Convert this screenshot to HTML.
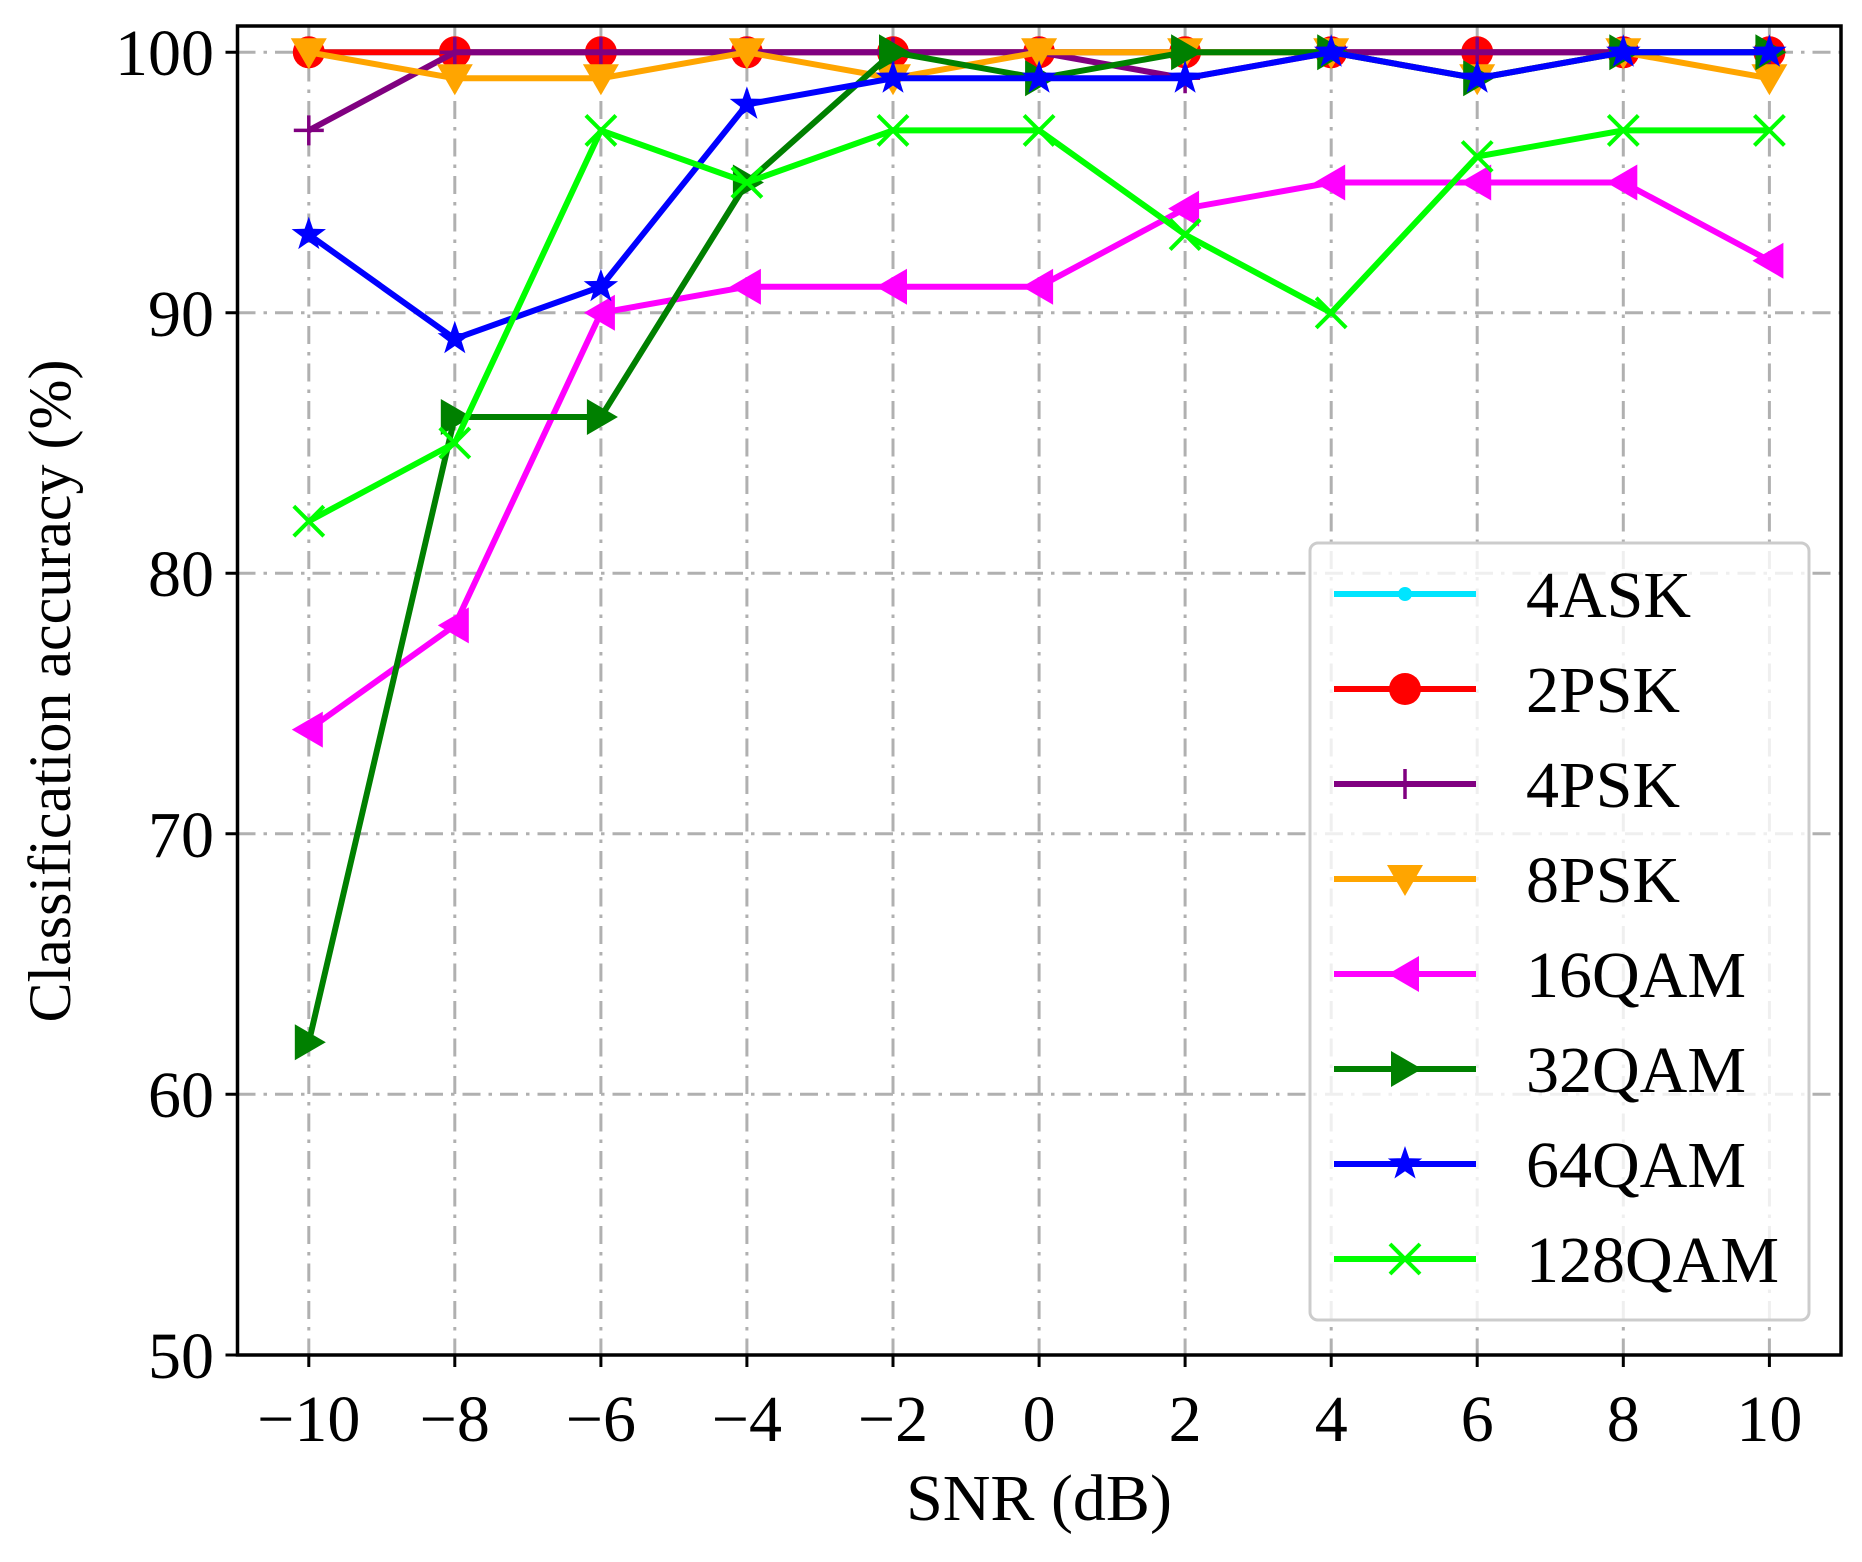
<!DOCTYPE html>
<html><head><meta charset="utf-8"><style>html,body{margin:0;padding:0;background:#fff}svg{display:block}text{font-family:"Liberation Serif",serif;fill:#000}</style></head><body>
<svg width="1862" height="1562" viewBox="0 0 1862 1562" xmlns="http://www.w3.org/2000/svg">
<defs>
<symbol id="mc" overflow="visible"><circle cx="0" cy="0" r="7" fill="#00e5ff"/></symbol>
<symbol id="mo" overflow="visible"><circle cx="0" cy="0" r="16" fill="#ff0000"/></symbol>
<symbol id="mp" overflow="visible"><path d="M-15 0H15M0 -15V15" stroke="#800080" stroke-width="3.5"/></symbol>
<symbol id="mv" overflow="visible"><path d="M-18 -14L18 -14L0 17Z" fill="#ffa500"/></symbol>
<symbol id="ml" overflow="visible"><path d="M-17 0L14 -18L14 18Z" fill="#ff00ff"/></symbol>
<symbol id="mr" overflow="visible"><path d="M17 0L-14 -18L-14 18Z" fill="#008000"/></symbol>
<symbol id="ms" overflow="visible"><path d="M0,-18 L4.2,-5.8 L17.2,-5.5 L6.8,2.3 L10.6,14.5 L0,7.2 L-10.6,14.5 L-6.8,2.3 L-17.2,-5.5 L-4.2,-5.8Z" fill="#0000ff"/></symbol>
<symbol id="mx" overflow="visible"><path d="M-15 -15L15 15M-15 15L15 -15" stroke="#00ff00" stroke-width="4"/></symbol>
</defs>
<g stroke="#b0b0b0" stroke-width="3" stroke-dasharray="18 8 3.5 8" fill="none">
<path d="M308.8 26V1355M454.8 26V1355M600.9 26V1355M746.9 26V1355M893 26V1355M1039.1 26V1355M1185.1 26V1355M1331.2 26V1355M1477.2 26V1355M1623.3 26V1355M1769.4 26V1355"/>
<path d="M237.5 52.3H1841M237.5 312.8H1841M237.5 573.3H1841M237.5 833.8H1841M237.5 1094.3H1841"/>
</g>
<polyline fill="none" stroke="#00e5ff" stroke-width="6" points="308.8,52.3 1769.4,52.3"/>
<polyline fill="none" stroke="#ff0000" stroke-width="6" points="308.8,52.3 454.8,52.3 600.9,52.3 746.9,52.3 893,52.3 1039.1,52.3 1185.1,52.3 1331.2,52.3 1477.2,52.3 1623.3,52.3 1769.4,52.3"/>
<use href="#mo" x="308.8" y="52.3"/><use href="#mo" x="454.8" y="52.3"/><use href="#mo" x="600.9" y="52.3"/><use href="#mo" x="746.9" y="52.3"/><use href="#mo" x="893" y="52.3"/><use href="#mo" x="1039.1" y="52.3"/><use href="#mo" x="1185.1" y="52.3"/><use href="#mo" x="1331.2" y="52.3"/><use href="#mo" x="1477.2" y="52.3"/><use href="#mo" x="1623.3" y="52.3"/><use href="#mo" x="1769.4" y="52.3"/>
<polyline fill="none" stroke="#800080" stroke-width="6" points="308.8,130.4 454.8,52.3 600.9,52.3 746.9,52.3 893,52.3 1039.1,52.3 1185.1,78.3 1331.2,52.3 1477.2,52.3 1623.3,52.3 1769.4,52.3"/>
<use href="#mp" x="308.8" y="130.4"/><use href="#mp" x="454.8" y="52.3"/><use href="#mp" x="600.9" y="52.3"/><use href="#mp" x="746.9" y="52.3"/><use href="#mp" x="893" y="52.3"/><use href="#mp" x="1039.1" y="52.3"/><use href="#mp" x="1185.1" y="78.3"/><use href="#mp" x="1331.2" y="52.3"/><use href="#mp" x="1477.2" y="52.3"/><use href="#mp" x="1623.3" y="52.3"/><use href="#mp" x="1769.4" y="52.3"/>
<polyline fill="none" stroke="#ffa500" stroke-width="6" points="308.8,52.3 454.8,78.3 600.9,78.3 746.9,52.3 893,78.3 1039.1,52.3 1185.1,52.3 1331.2,52.3 1477.2,78.3 1623.3,52.3 1769.4,78.3"/>
<use href="#mv" x="308.8" y="52.3"/><use href="#mv" x="454.8" y="78.3"/><use href="#mv" x="600.9" y="78.3"/><use href="#mv" x="746.9" y="52.3"/><use href="#mv" x="893" y="78.3"/><use href="#mv" x="1039.1" y="52.3"/><use href="#mv" x="1185.1" y="52.3"/><use href="#mv" x="1331.2" y="52.3"/><use href="#mv" x="1477.2" y="78.3"/><use href="#mv" x="1623.3" y="52.3"/><use href="#mv" x="1769.4" y="78.3"/>
<polyline fill="none" stroke="#ff00ff" stroke-width="6" points="308.8,729.6 454.8,625.4 600.9,312.8 746.9,286.7 893,286.7 1039.1,286.7 1185.1,208.6 1331.2,182.5 1477.2,182.5 1623.3,182.5 1769.4,260.7"/>
<use href="#ml" x="308.8" y="729.6"/><use href="#ml" x="454.8" y="625.4"/><use href="#ml" x="600.9" y="312.8"/><use href="#ml" x="746.9" y="286.7"/><use href="#ml" x="893" y="286.7"/><use href="#ml" x="1039.1" y="286.7"/><use href="#ml" x="1185.1" y="208.6"/><use href="#ml" x="1331.2" y="182.5"/><use href="#ml" x="1477.2" y="182.5"/><use href="#ml" x="1623.3" y="182.5"/><use href="#ml" x="1769.4" y="260.7"/>
<polyline fill="none" stroke="#008000" stroke-width="6" points="308.8,1042.2 454.8,417 600.9,417 746.9,182.5 893,52.3 1039.1,78.3 1185.1,52.3 1331.2,52.3 1477.2,78.3 1623.3,52.3 1769.4,52.3"/>
<use href="#mr" x="308.8" y="1042.2"/><use href="#mr" x="454.8" y="417"/><use href="#mr" x="600.9" y="417"/><use href="#mr" x="746.9" y="182.5"/><use href="#mr" x="893" y="52.3"/><use href="#mr" x="1039.1" y="78.3"/><use href="#mr" x="1185.1" y="52.3"/><use href="#mr" x="1331.2" y="52.3"/><use href="#mr" x="1477.2" y="78.3"/><use href="#mr" x="1623.3" y="52.3"/><use href="#mr" x="1769.4" y="52.3"/>
<polyline fill="none" stroke="#0000ff" stroke-width="6" points="308.8,234.6 454.8,338.8 600.9,286.7 746.9,104.4 893,78.3 1039.1,78.3 1185.1,78.3 1331.2,52.3 1477.2,78.3 1623.3,52.3 1769.4,52.3"/>
<use href="#ms" x="308.8" y="234.6"/><use href="#ms" x="454.8" y="338.8"/><use href="#ms" x="600.9" y="286.7"/><use href="#ms" x="746.9" y="104.4"/><use href="#ms" x="893" y="78.3"/><use href="#ms" x="1039.1" y="78.3"/><use href="#ms" x="1185.1" y="78.3"/><use href="#ms" x="1331.2" y="52.3"/><use href="#ms" x="1477.2" y="78.3"/><use href="#ms" x="1623.3" y="52.3"/><use href="#ms" x="1769.4" y="52.3"/>
<polyline fill="none" stroke="#00ff00" stroke-width="6" points="308.8,521.2 454.8,443 600.9,130.4 746.9,182.5 893,130.4 1039.1,130.4 1185.1,234.6 1331.2,312.8 1477.2,156.5 1623.3,130.4 1769.4,130.4"/>
<use href="#mx" x="308.8" y="521.2"/><use href="#mx" x="454.8" y="443"/><use href="#mx" x="600.9" y="130.4"/><use href="#mx" x="746.9" y="182.5"/><use href="#mx" x="893" y="130.4"/><use href="#mx" x="1039.1" y="130.4"/><use href="#mx" x="1185.1" y="234.6"/><use href="#mx" x="1331.2" y="312.8"/><use href="#mx" x="1477.2" y="156.5"/><use href="#mx" x="1623.3" y="130.4"/><use href="#mx" x="1769.4" y="130.4"/>
<rect x="237.5" y="26" width="1603.5" height="1329" fill="none" stroke="#000" stroke-width="3.5"/>
<g stroke="#000" stroke-width="3">
<path d="M308.8 1355v12M454.8 1355v12M600.9 1355v12M746.9 1355v12M893 1355v12M1039.1 1355v12M1185.1 1355v12M1331.2 1355v12M1477.2 1355v12M1623.3 1355v12M1769.4 1355v12"/>
<path d="M237.5 52.3h-12M237.5 312.8h-12M237.5 573.3h-12M237.5 833.8h-12M237.5 1094.3h-12M237.5 1355h-12"/>
</g>
<g font-size="66" text-anchor="middle">
<text x="308.8" y="1441">−10</text><text x="454.8" y="1441">−8</text><text x="600.9" y="1441">−6</text><text x="746.9" y="1441">−4</text><text x="893" y="1441">−2</text><text x="1039.1" y="1441">0</text><text x="1185.1" y="1441">2</text><text x="1331.2" y="1441">4</text><text x="1477.2" y="1441">6</text><text x="1623.3" y="1441">8</text><text x="1769.4" y="1441">10</text>
</g>
<g font-size="66" text-anchor="end">
<text x="214" y="75">100</text><text x="214" y="336">90</text><text x="214" y="596">80</text><text x="214" y="857">70</text><text x="214" y="1117">60</text><text x="214" y="1378">50</text>
</g>
<text x="1039" y="1520" font-size="66" text-anchor="middle">SNR (dB)</text>
<text transform="translate(70,691) rotate(-90)" font-size="60" text-anchor="middle">Classification accuracy (%)</text>
<rect x="1310" y="543" width="499" height="777" rx="8" fill="#fff" fill-opacity="0.8" stroke="#ccc" stroke-width="3"/>
<g stroke-width="6">
<line x1="1334" y1="594" x2="1476" y2="594" stroke="#00e5ff"/><use href="#mc" x="1405" y="594"/>
<line x1="1334" y1="689" x2="1476" y2="689" stroke="#ff0000"/><use href="#mo" x="1405" y="689"/>
<line x1="1334" y1="784" x2="1476" y2="784" stroke="#800080"/><use href="#mp" x="1405" y="784"/>
<line x1="1334" y1="879" x2="1476" y2="879" stroke="#ffa500"/><use href="#mv" x="1405" y="879"/>
<line x1="1334" y1="974" x2="1476" y2="974" stroke="#ff00ff"/><use href="#ml" x="1405" y="974"/>
<line x1="1334" y1="1069" x2="1476" y2="1069" stroke="#008000"/><use href="#mr" x="1405" y="1069"/>
<line x1="1334" y1="1164" x2="1476" y2="1164" stroke="#0000ff"/><use href="#ms" x="1405" y="1164"/>
<line x1="1334" y1="1259" x2="1476" y2="1259" stroke="#00ff00"/><use href="#mx" x="1405" y="1259"/>
</g>
<g font-size="66">
<text x="1526" y="617">4ASK</text><text x="1526" y="712">2PSK</text><text x="1526" y="807">4PSK</text><text x="1526" y="902">8PSK</text><text x="1526" y="997">16QAM</text><text x="1526" y="1092">32QAM</text><text x="1526" y="1187">64QAM</text><text x="1526" y="1282">128QAM</text>
</g>
</svg>
</body></html>
